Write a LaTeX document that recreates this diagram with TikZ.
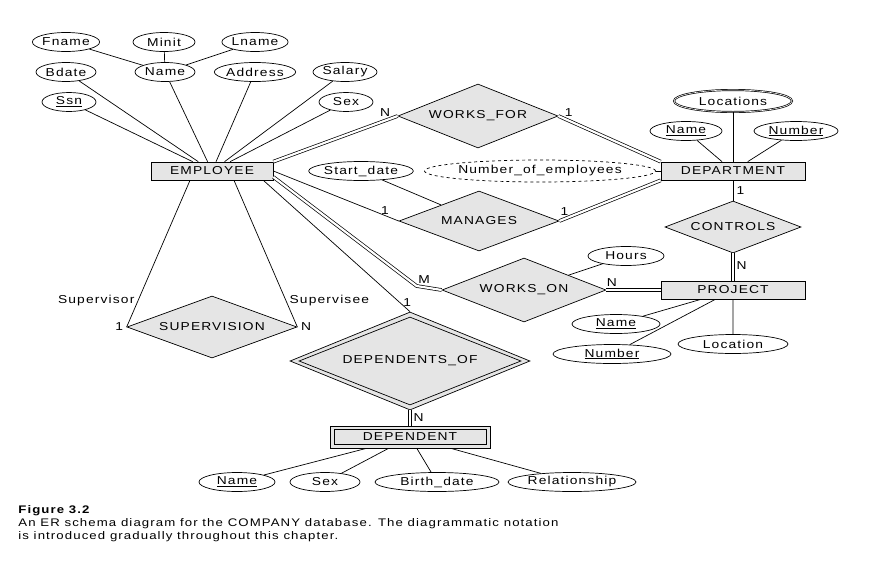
\documentclass[tikz,border=0pt]{standalone}
\usepackage{fontspec}
\setmainfont{Liberation Sans}[FakeStretch=1.2,LetterSpace=10]
\usetikzlibrary{shapes.geometric,calc}
\begin{document}
\begin{tikzpicture}[x=1pt,y=-1pt,font=\fontsize{11.5}{13}\selectfont,line width=0.7pt,
 attr/.style={ellipse,draw,minimum height=19pt,inner sep=0pt},
 ent/.style={draw,fill=gray!20,minimum height=18pt,inner sep=2pt},
 rel/.style={diamond,draw,fill=gray!20,aspect=2.5,inner sep=0pt},
 dbl/.style={double,double distance=2.2pt,line width=0.7pt}]
\useasboundingbox (0,0) rectangle (886,568);
% employee attributes
\node[attr,minimum width=62] (fname) at (66,42) {Fname};
\node[attr,minimum width=62] (minit) at (164,42) {Minit};
\node[attr,minimum width=62] (lname) at (255,42) {Lname};
\node[attr,minimum width=60] (ename) at (165,72) {Name};
\node[attr,minimum width=60] (bdate) at (66,72) {Bdate};
\node[attr,minimum width=70] (addr) at (255,72) {Address};
\node[attr,minimum width=64] (salary) at (345,72) {Salary};
\node[attr,minimum width=54] (ssn) at (69,102) {\underline{Ssn}};
\node[attr,minimum width=54] (esex) at (346,102) {Sex};
\node[ent,minimum width=122] (emp) at (212,171) {EMPLOYEE};
\draw (fname)--(ename) (minit)--(ename) (lname)--(ename);
\foreach \a in {ename,bdate,addr,salary,ssn,esex} \draw (\a)--(emp);
% department
\node[ent,minimum width=144] (dept) at (733,171) {DEPARTMENT};
\node[attr,double,minimum width=118,minimum height=22] (loc) at (733,101) {Locations};
\node[attr,minimum width=72] (dname) at (686,131) {\underline{Name}};
\node[attr,minimum width=84] (dnum) at (796,131) {\underline{Number}};
\node[attr,dashed,minimum width=178,minimum height=22] (noe) at (540,171) {Number\_of\_employees};
\foreach \a in {loc,dname,dnum,noe} \draw (\a)--(dept);
% works for
\node[rel,minimum width=160,minimum height=64] (wf) at (478,116) {WORKS\_FOR};
\draw[dbl] (emp.north east)--(wf.west) node[pos=0.9,above]{N};
\draw[dbl] (wf.east)--(dept.north west) node[pos=0.1,above]{1};
% manages
\node[attr,minimum width=84] (sd) at (361,171) {Start\_date};
\node[rel,minimum width=160,minimum height=60] (man) at (479,221) {MANAGES};
\draw (emp.east)--(man.west) node[pos=0.95,above left]{1};
\draw[dbl] (man.east)--(dept.south west) node[pos=0.05,above]{1};
\draw (sd)--(man);
% controls, project
\node[rel,minimum width=136,minimum height=52] (ctl) at (733,227) {CONTROLS};
\node[ent,minimum width=144] (proj) at (733,290) {PROJECT};
\draw (dept.south)--(ctl.north) node[pos=0.5,right]{1};
\draw[dbl] (ctl.south)--(proj.north) node[pos=0.45,right]{N};
\node[attr,minimum width=88] (pname) at (616,324) {\underline{Name}};
\node[attr,minimum width=118] (pnum) at (612,354) {\underline{Number}};
\node[attr,minimum width=110] (ploc) at (733,344) {Location};
\draw (pname)--(proj) (pnum)--(proj) (ploc.north)--(proj.south);
% works on
\node[rel,minimum width=164,minimum height=64] (wo) at (524,290) {WORKS\_ON};
\node[attr,minimum width=76] (hours) at (626,256) {Hours};
\draw[dbl] ($(emp.east)+(0,6)$)--($(wo.west)+(-25,-4)$)--(wo.west) node[pos=0.3,above]{M};
\draw[dbl] (wo.east)--(proj.west) node[pos=0.1,above]{N};
\draw (hours)--(wo);
% supervision
\node[rel,minimum width=170,minimum height=62] (sup) at (212,327) {SUPERVISION};
\draw ($(emp.south)+(-22,0)$)--(sup.west) node[pos=0.82,left]{Supervisor} node[pos=1,left]{1};
\draw ($(emp.south)+(22,0)$)--(sup.east) node[pos=0.82,right]{Supervisee} node[pos=1,right]{N};
% dependents
\node[rel,minimum width=240,minimum height=98] (dof) at (410,361) {};
\node[diamond,draw,aspect=2.5,minimum width=222,minimum height=88,inner sep=0pt] (dofi) at (410,361) {DEPENDENTS\_OF};
\node[ent,minimum width=160,minimum height=22] (dep) at (410,437) {};
\node[draw,minimum width=152,minimum height=15,inner sep=0pt] (depi) at (410,437) {DEPENDENT};
\draw ($(emp.south east)+(-10,0)$)--(dof.north) node[pos=0.93,right]{1};
\draw[dbl] (dof.south)--(dep.north) node[pos=0.5,right]{N};
\node[attr,minimum width=76] (dn) at (237,482) {\underline{Name}};
\node[attr,minimum width=70] (ds) at (325,482) {Sex};
\node[attr,minimum width=124] (db) at (437,482) {Birth\_date};
\node[attr,minimum width=128] (dr) at (572,482) {Relationship};
\foreach \a in {dn,ds,db,dr} \draw (\a)--(dep);
% caption
\node[anchor=north west,align=left,inner sep=0pt,font=\fontsize{11}{13}\selectfont] (cap) at (18,505) {\textbf{Figure 3.2}\\An ER schema diagram for the COMPANY database. The diagrammatic notation\\is introduced gradually throughout this chapter.};
\end{tikzpicture}
\end{document}
